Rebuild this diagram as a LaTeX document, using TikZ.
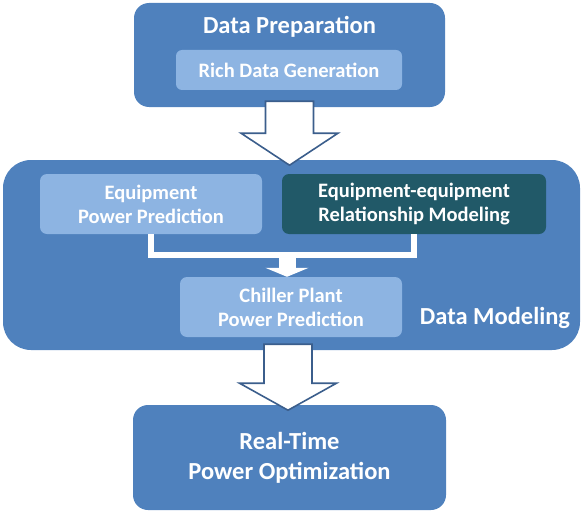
\documentclass[tikz,border=0pt]{standalone}
\usepackage{fontspec}
\setmainfont{Carlito}
\usepackage{xcolor}
\usetikzlibrary{arrows.meta}
\definecolor{mainblue}{HTML}{4F81BD}
\definecolor{lightblue}{HTML}{8DB4E2}
\definecolor{darkteal}{HTML}{215968}
\definecolor{arrowline}{HTML}{3B5E8C}
\begin{document}
\begin{tikzpicture}[x=1pt,y=-1pt]
	\tikzstyle{stage}=[rectangle,rounded corners=15pt,fill=mainblue,text=white,font=\fontsize{24.5}{30}\selectfont\bfseries,align=center,inner sep=0pt]
	\tikzstyle{task}=[rectangle,rounded corners=7pt,fill=lightblue,text=white,font=\fontsize{20.5}{24}\selectfont\bfseries,align=center,inner sep=0pt,minimum height=60pt]
	\tikzstyle{special}=[task,fill=darkteal]
	\tikzstyle{title}=[text=white,font=\fontsize{24.5}{30}\selectfont\bfseries,inner sep=0pt]
	\tikzstyle{hollow}=[draw=arrowline,line width=1.6pt,fill=white,line join=miter]
	\tikzstyle{flow}=[draw=white,line width=6pt]
	\useasboundingbox (0,0) rectangle (585,516);

	% stage 1
	\node [stage,minimum width=311pt,minimum height=104pt] (prep) at (289.5,55) {};
	\node [title] (preptitle) at (289.5,27) {Data Preparation};
	\node [task,minimum width=226pt,minimum height=40pt,rounded corners=6pt] (rich) at (289,70) {Rich Data Generation};

	% stage 2
	\node [stage,rounded corners=28pt,minimum width=577pt,minimum height=190pt] (model) at (291.5,255) {};
	\node [task,minimum width=222pt] (equip) at (151,204) {Equipment\\Power Prediction};
	\node [special,minimum width=264pt] (rel) at (414,204) {Equipment-equipment\\Relationship Modeling};
	\node [task,minimum width=222pt] (chiller) at (291,307) {Chiller Plant\\Power Prediction};
	\node [title] (modeltitle) at (495,318) {Data Modeling};

	% stage 3
	\node [stage,minimum width=313pt,minimum height=105pt] (opt) at (289.5,457.5) {Real-Time\\Power Optimization};

	% merge inside data modeling
	\coordinate (join) at (287,255);
	\draw [flow] (equip.south) |- (join) -| (rel.south);
	\draw [flow,line width=17pt,-{Triangle[width=43pt,length=9pt]}] (join) -- (join |- chiller.north);

	% big hollow arrows
	\draw [hollow] (prep.south) ++(-24,-6) -- ++(0,32) -- ++(-24.5,0) -- ++(48.5,32) -- ++(48.5,-32) -- ++(-24.5,0) -- ++(0,-32) -- cycle;
	\draw [hollow] (model.south) ++(-27.5,-6) -- ++(0,39) -- ++(-24.5,0) -- ++(48.5,27) -- ++(48.5,-27) -- ++(-24.5,0) -- ++(0,-39) -- cycle;
\end{tikzpicture}
\end{document}
